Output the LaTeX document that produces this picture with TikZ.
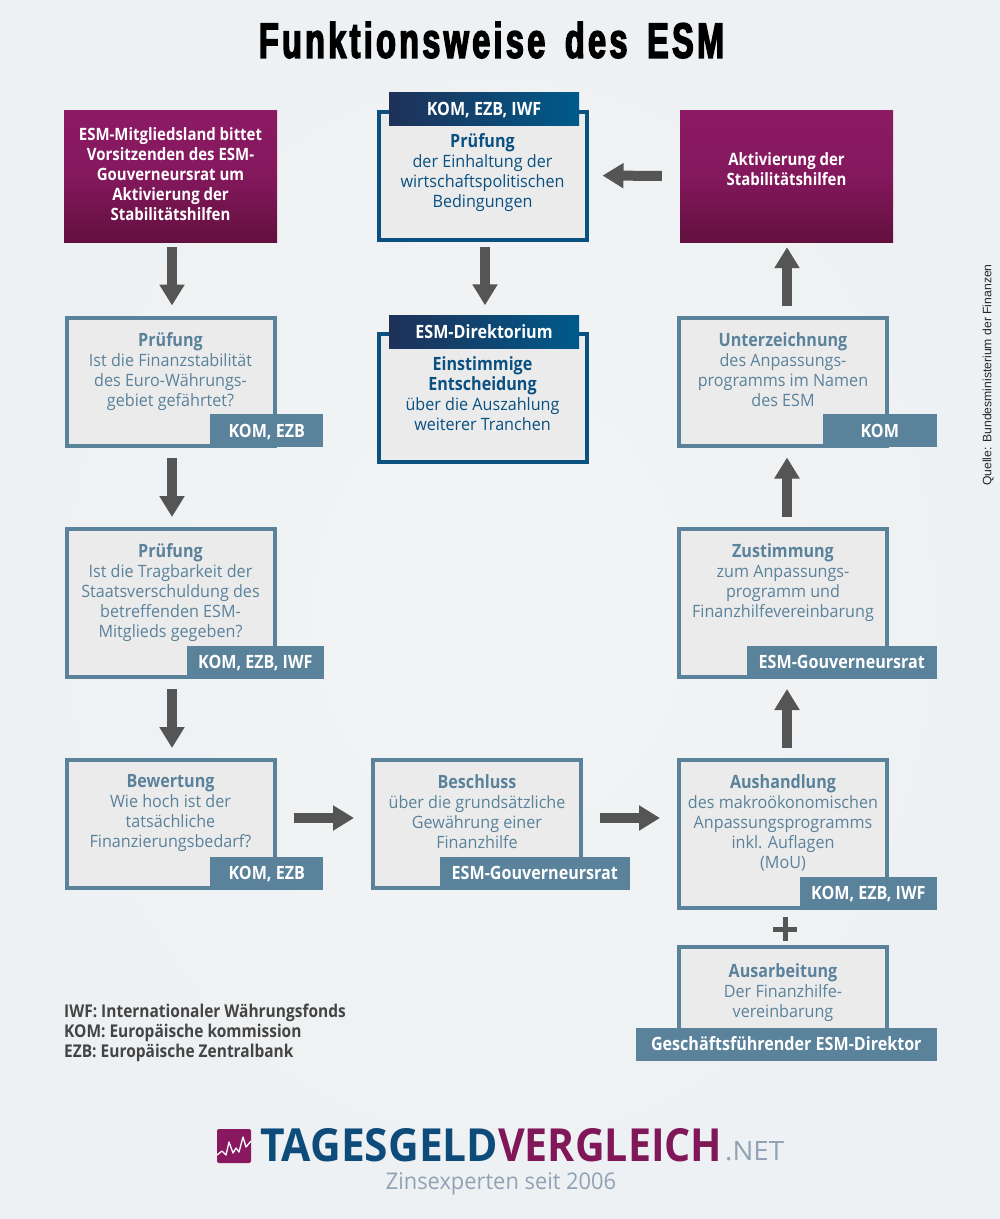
\documentclass[tikz,border=0pt]{standalone}
\usepackage{fontspec}
\usepackage{graphicx}
\usetikzlibrary{arrows.meta}
\setmainfont[FakeStretch=0.95,BoldFeatures={FakeStretch=0.88}]{Open Sans}
\newfontfamily\titlefont[FakeStretch=0.68,LetterSpace=7,FakeBold=3,WordSpace=1.6]{Liberation Sans Bold}
\newfontfamily\srcfont{Liberation Sans}
\newcommand\hd[1]{{\fontsize{18.3}{20}\selectfont\bfseries #1}}
\definecolor{steel}{HTML}{5A829B}
\definecolor{navy}{HTML}{0A5080}
\definecolor{navyL}{HTML}{1F3158}
\definecolor{navyR}{HTML}{005A8A}
\definecolor{magT}{HTML}{8C1A64}
\definecolor{magB}{HTML}{62103F}
\definecolor{boxgrey}{HTML}{EBEBEC}
\definecolor{arrowgrey}{HTML}{555555}
\definecolor{legendgrey}{HTML}{444444}
\definecolor{netgrey}{HTML}{90A2B4}
\definecolor{bgin}{HTML}{F2F4F5}
\definecolor{bgout}{HTML}{EEF1F3}
\tikzset{
  body/.style={font=\fontsize{17}{20}\selectfont,align=center,inner sep=0pt,anchor=north},
  bluetxt/.style={body,text=steel,yshift=-16.5pt},
  navytxt/.style={body,text=navy,yshift=-24pt},
  whitetxt/.style={body,text=white,font=\fontsize{17}{20}\selectfont\bfseries},
  bluebox/.style={draw=steel,line width=4pt,fill=boxgrey,inner sep=0pt,minimum width=208pt},
  navybox/.style={draw=navy,line width=4pt,fill=boxgrey,inner sep=0pt,minimum width=208pt,minimum height=128pt},
  magbox/.style={inner sep=0pt,minimum width=213pt,minimum height=132pt,top color=magT,bottom color=magB,middle color=magT!80!magB},
  tagbox/.style={fill=steel,text=white,inner sep=0pt,minimum height=33pt,text height=13pt,text depth=0pt,anchor=south east,font=\fontsize{18.3}{20}\selectfont\bfseries},
  navytag/.style={left color=navyL,right color=navyR,text=white,inner sep=0pt,minimum height=33pt,text height=13pt,text depth=0pt,minimum width=190pt,font=\fontsize{18.3}{20}\selectfont\bfseries},
  flow/.style={draw=arrowgrey,line width=10pt,-{Triangle[width=24pt,length=21pt]},shorten <=10pt,shorten >=10pt},
  legend/.style={inner sep=0pt,anchor=base west,text=legendgrey,font=\fontsize{17.6}{20}\selectfont\bfseries}
}
\begin{document}
\begin{tikzpicture}[x=1pt,y=-1pt]
\useasboundingbox (0,0) rectangle (1000,1219);
\shade[inner color=bgin,outer color=bgout] (0,0) rectangle (1000,1219);
\node[inner sep=0pt] (title) at (491.5,40) {\resizebox{465pt}{36pt}{\titlefont Funktionsweise des ESM}};
% left column
\node[magbox] (m1) at (170.5,176) {};
\node[whitetxt,yshift=-18pt] (m1t) at (m1.north) {ESM-Mitgliedsland bittet\\Vorsitzenden des ESM-\\Gouverneursrat um\\Aktivierung der\\Stabilitätshilfen};
\node[bluebox,minimum height=128pt] (b2) at (170.5,381.5) {};
\node[bluetxt] (b2t) at (b2.north) {\hd{Prüfung}\\Ist die Finanzstabilität\\des Euro-Währungs-\\gebiet gefährtet?};
\node[tagbox,minimum width=113pt] (b2k) at (323.5,447.5) {KOM, EZB};
\node[bluebox,minimum height=148pt] (b3) at (170.5,603) {};
\node[bluetxt] (b3t) at (b3.north) {\hd{Prüfung}\\Ist die Tragbarkeit der\\Staatsverschuldung des\\betreffenden ESM-\\Mitglieds gegeben?};
\node[tagbox,minimum width=137pt] (b3k) at (324,679) {KOM, EZB, IWF};
\node[bluebox,minimum height=128pt] (b4) at (170.5,824) {};
\node[bluetxt] (b4t) at (b4.north) {\hd{Bewertung}\\Wie hoch ist der\\tatsächliche\\Finanzierungsbedarf?};
\node[tagbox,minimum width=113pt] (b4k) at (323.5,890) {KOM, EZB};
% bottom middle
\node[bluebox,minimum height=128pt] (b5) at (477,824) {};
\node[bluetxt] (b5t) at (b5.north) {\hd{Beschluss}\\über die grundsätzliche\\Gewährung einer\\Finanzhilfe};
\node[tagbox,minimum width=190pt] (b5k) at (630,890) {ESM-Gouverneursrat};
% right column
\node[bluebox,minimum height=148pt] (b6) at (783,834) {};
\node[bluetxt] (b6t) at (b6.north) {\hd{Aushandlung}\\des makroökonomischen\\Anpassungsprogramms\\inkl. Auflagen\\(MoU)};
\node[tagbox,minimum width=137pt] (b6k) at (937,910) {KOM, EZB, IWF};
\node[bluebox,minimum height=90pt] (b7) at (783,992) {};
\node[bluetxt,yshift=-1.5pt] (b7t) at (b7.north) {\hd{Ausarbeitung}\\Der Finanzhilfe-\\vereinbarung};
\node[tagbox,minimum width=301pt] (b7k) at (937,1061) {Geschäftsführender ESM-Direktor};
\node[bluebox,minimum height=148pt] (b8) at (783,603) {};
\node[bluetxt] (b8t) at (b8.north) {\hd{Zustimmung}\\zum Anpassungs-\\programm und\\Finanzhilfevereinbarung};
\node[tagbox,minimum width=190pt] (b8k) at (937,679) {ESM-Gouverneursrat};
\node[bluebox,minimum height=128pt] (b9) at (783,381.5) {};
\node[bluetxt] (b9t) at (b9.north) {\hd{Unterzeichnung}\\des Anpassungs-\\programms im Namen\\des ESM};
\node[tagbox,minimum width=114pt] (b9k) at (937,447.5) {KOM};
\node[magbox] (m2) at (786.5,176) {};
\node[whitetxt,yshift=-43pt] (m2t) at (m2.north) {Aktivierung der\\Stabilitätshilfen};
% centre top
\node[navybox] (c1) at (482.5,175.5) {};
\node[navytag] (c1k) at (484,109) {KOM, EZB, IWF};
\node[navytxt] (c1t) at (c1.north) {\hd{Prüfung}\\der Einhaltung der\\wirtschaftspolitischen\\Bedingungen};
\node[navybox] (c2) at (482.5,398) {};
\node[navytag] (c2k) at (484,332) {ESM-Direktorium};
\node[navytxt] (c2t) at (c2.north) {\hd{Einstimmige}\\\hd{Entscheidung}\\über die Auszahlung\\weiterer Tranchen};
% arrows
\coordinate (p1) at ([xshift=1.5pt]m1.south);
\coordinate (p2) at ([xshift=1.5pt]b2.north);
\coordinate (p3) at ([xshift=1.5pt]b2.south);
\coordinate (p4) at ([xshift=1.5pt]b3.north);
\coordinate (p5) at ([xshift=1.5pt]b3.south);
\coordinate (p6) at ([xshift=1.5pt]b4.north);
\draw[flow,shorten <=5pt] (p1) -- (p2);
\draw[flow] (p3) -- (p4);
\draw[flow] (p5) -- (p6);
\coordinate (h1) at ([yshift=6pt]b4.east);
\coordinate (h2) at ([yshift=6pt]b5.west);
\coordinate (h3) at ([yshift=6pt]b5.east);
\coordinate (h4) at (h3 -| b6.west);
\draw[flow,shorten <=17pt,shorten >=17pt] (h1) -- (h2);
\draw[flow,shorten <=17pt,shorten >=17pt] (h3) -- (h4);
\coordinate (a1) at ([xshift=4pt]b6.north);
\coordinate (a2) at ([xshift=4pt]b8.south);
\coordinate (a3) at ([xshift=4pt]b8.north);
\coordinate (a4) at ([xshift=4pt]b9.south);
\coordinate (a5) at ([xshift=4pt]b9.north);
\coordinate (a6) at ([xshift=0.5pt]m2.south);
\draw[flow] (a1) -- (a2);
\draw[flow] (a3) -- (a4);
\draw[flow,shorten >=5pt] (a5) -- (a6);
\draw[flow,shorten <=18pt,shorten >=14pt] (m2.west) -- (c1.east);
\coordinate (a7) at ([xshift=2.5pt]c1.south);
\coordinate (a8) at ([xshift=1pt]c2k.north);
\draw[flow,shorten <=5pt] (a7) -- (a8);
% plus
\coordinate (pc) at (785,929);
\fill[arrowgrey] ([xshift=-12pt,yshift=2.5pt]pc) rectangle ([xshift=12pt,yshift=-2.5pt]pc);
\fill[arrowgrey] ([xshift=-2.5pt,yshift=12pt]pc) rectangle ([xshift=2.5pt,yshift=-12pt]pc);
% legend
\node[legend] (l1) at (64,1017) {IWF: Internationaler Währungsfonds};
\node[legend] (l2) at (64,1037) {KOM: Europäische kommission};
\node[legend] (l3) at (64,1057) {EZB: Europäische Zentralbank};
% source
\node[rotate=90,inner sep=0pt,text=black!85,font=\srcfont\fontsize{12.2}{14}\selectfont] (src) at (988,375) {Quelle: Bundesministerium der Finanzen};
% logo
\fill[magT!90!magB,rounded corners=2pt] (217,1129) rectangle (251,1163);
\draw[white,line width=1.3pt,line join=round] (217,1155) -- (222,1151) -- (226,1155) -- (229,1142) -- (233,1153) -- (236,1148) -- (239,1152) -- (243,1137) -- (246,1147) -- (251,1141);
\node[inner sep=0pt,anchor=west,text=navy!85!navyL] (lg1) at (260,1145) {\resizebox{238pt}{33pt}{\bfseries TAGESGELD}};
\node[inner sep=0pt,anchor=west,text=magT!70!magB] (lg2) at (498,1145) {\resizebox{224pt}{33pt}{\bfseries VERGLEICH}};
\node[inner sep=0pt,anchor=south west,text=netgrey] (lg3) at (725,1161.5) {\resizebox{59pt}{19pt}{.NET}};
\node[inner sep=0pt,text=netgrey,font=\fontsize{23}{26}\selectfont] (zins) at (501,1183.5) {Zinsexperten seit 2006};
\end{tikzpicture}
\end{document}
